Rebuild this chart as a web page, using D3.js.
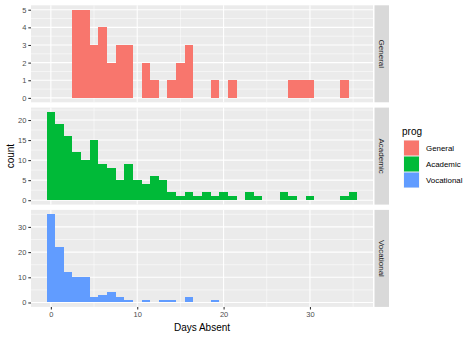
<!DOCTYPE html>
<html>
<head>
<meta charset="utf-8">
<script src="https://cdn.jsdelivr.net/npm/d3@7"></script>
<style>
  html, body { margin: 0; padding: 0; background: #fff; }
  svg { display: block; font-family: "Liberation Sans", Arial, sans-serif; }
</style>
</head>
<body>
<svg id="chart" width="474" height="338"></svg>
<script>
// Histogram of days absent (binwidth 1), one panel per program
const days = d3.range(0, 36);
const programs = ["General", "Academic", "Vocational"];
const colors = ["#F8766D", "#00BA38", "#619CFF"];

const generalCounts = [0,0,0,5,5,3,4,2,3,3,0,2,1,0,1,2,3,0,0,1,0,1,0,0,0,0,0,0,1,1,1,0,0,0,1,0];
const academicCounts = [22,19,16,12,10,15,9,8,5,9,5,4,6,5,2,1,2,1,2,1,2,1,0,2,1,0,0,2,1,0,1,0,0,0,1,2];
const vocationalCounts = [35,22,12,10,10,2,3,4,2,1,0,1,0,1,1,0,2,0,0,1,0,0,0,0,0,0,0,0,0,0,0,0,0,0,0,0];
const countsByProg = [generalCounts, academicCounts, vocationalCounts];

const yTicksByProg = [[0,1,2,3,4,5], [0,5,10,15,20], [0,10,20,30]];
const xTicks = [0, 10, 20, 30];
const xMinor = [5, 15, 25, 35];

const svg = d3.select("#chart");
const panelLeft = 31, panelRight = 373;
const panelTops = [5.3, 107.6, 209.9];
const panelH = 97;

// shared x scale: bin edges expanded by 5%
const xLo = d3.min(days) - 0.5, xHi = d3.max(days) + 0.5;
const xPad = (xHi - xLo) * 0.05;
const x = d3.scaleLinear().domain([xLo - xPad, xHi + xPad]).range([panelLeft, panelRight]);

programs.forEach((prog, i) => {
  const counts = countsByProg[i];
  const top = panelTops[i], bottom = top + panelH;
  const maxC = d3.max(counts);
  const y = d3.scaleLinear().domain([-0.05 * maxC, 1.05 * maxC]).range([bottom, top]);
  const g = svg.append("g");

  g.append("rect").attr("x", panelLeft).attr("y", top)
    .attr("width", panelRight - panelLeft).attr("height", panelH).attr("fill", "#EBEBEB");

  // minor grid
  const yt = yTicksByProg[i];
  const step = yt[1] - yt[0];
  const yMinor = d3.range(yt[0] + step / 2, y.domain()[1], step);
  g.selectAll(".ymin").data(yMinor).join("line")
    .attr("x1", panelLeft).attr("x2", panelRight)
    .attr("y1", d => y(d)).attr("y2", d => y(d))
    .attr("stroke", "#FFFFFF").attr("stroke-width", 0.53);
  g.selectAll(".xmin").data(xMinor).join("line")
    .attr("y1", top).attr("y2", bottom)
    .attr("x1", d => x(d)).attr("x2", d => x(d))
    .attr("stroke", "#FFFFFF").attr("stroke-width", 0.53);
  // major grid
  g.selectAll(".ymaj").data(yt).join("line")
    .attr("x1", panelLeft).attr("x2", panelRight)
    .attr("y1", d => y(d)).attr("y2", d => y(d))
    .attr("stroke", "#FFFFFF").attr("stroke-width", 1.07);
  g.selectAll(".xmaj").data(xTicks).join("line")
    .attr("y1", top).attr("y2", bottom)
    .attr("x1", d => x(d)).attr("x2", d => x(d))
    .attr("stroke", "#FFFFFF").attr("stroke-width", 1.07);

  // bars
  g.selectAll(".bar").data(days.map((d, k) => ({ d, c: counts[k] })).filter(b => b.c > 0))
    .join("rect")
    .attr("x", b => x(b.d - 0.5))
    .attr("width", b => x(b.d + 0.5) - x(b.d - 0.5))
    .attr("y", b => y(b.c))
    .attr("height", b => y(0) - y(b.c))
    .attr("fill", colors[i])
    .attr("shape-rendering", "crispEdges");

  // y axis
  const ya = g.append("g").attr("transform", `translate(${panelLeft},0)`)
    .call(d3.axisLeft(y).tickValues(yt).tickFormat(d3.format("d")).tickSize(2.7).tickPadding(2));
  ya.select(".domain").remove();
  ya.selectAll("line").attr("stroke", "#333333").attr("stroke-width", 1.07);
  ya.selectAll("text").attr("fill", "#4D4D4D").style("font-size", "7.5px")
    .style("font-family", "Liberation Sans, Arial, sans-serif");

  // strip on the right
  const stripX = 374.5, stripW = 14.5;
  g.append("rect").attr("x", stripX).attr("y", top).attr("width", stripW).attr("height", panelH)
    .attr("fill", "#D9D9D9");
  g.append("text")
    .attr("transform", `translate(${stripX + stripW / 2},${top + panelH / 2}) rotate(90)`)
    .attr("text-anchor", "middle").attr("dy", "0.35em")
    .attr("fill", "#1A1A1A").style("font-size", "8px").text(prog);

  if (i === programs.length - 1) {
    const xa = g.append("g").attr("transform", `translate(0,${bottom})`)
      .call(d3.axisBottom(x).tickValues(xTicks).tickFormat(d3.format("d")).tickSize(2.7).tickPadding(2));
    xa.select(".domain").remove();
    xa.selectAll("line").attr("stroke", "#333333").attr("stroke-width", 1.07);
    xa.selectAll("text").attr("fill", "#4D4D4D").style("font-size", "7.5px")
      .style("font-family", "Liberation Sans, Arial, sans-serif");
  }
});

// axis titles
svg.append("text").attr("x", (panelLeft + panelRight) / 2).attr("y", 330.5)
  .attr("text-anchor", "middle").attr("fill", "#000").style("font-size", "10px").text("Days Absent");
svg.append("text")
  .attr("transform", `translate(10.5,${(panelTops[0] + panelTops[2] + panelH) / 2}) rotate(-90)`)
  .attr("text-anchor", "middle").attr("dy", "0.35em").attr("fill", "#000")
  .style("font-size", "10px").text("count");

// legend
const lg = svg.append("g");
lg.append("text").attr("x", 402).attr("y", 134.5).attr("fill", "#000")
  .style("font-size", "10px").text("prog");
programs.forEach((p, i) => {
  const ky = 140 + i * 16;
  lg.append("rect").attr("x", 403.5).attr("y", ky).attr("width", 16).attr("height", 16)
    .attr("fill", "#F2F2F2");
  lg.append("rect").attr("x", 404).attr("y", ky + 0.5).attr("width", 15).attr("height", 15)
    .attr("fill", colors[i]);
  lg.append("text").attr("x", 426).attr("y", ky + 8).attr("dy", "0.35em")
    .attr("fill", "#000").style("font-size", "7.9px").text(p);
});
</script>
</body>
</html>
